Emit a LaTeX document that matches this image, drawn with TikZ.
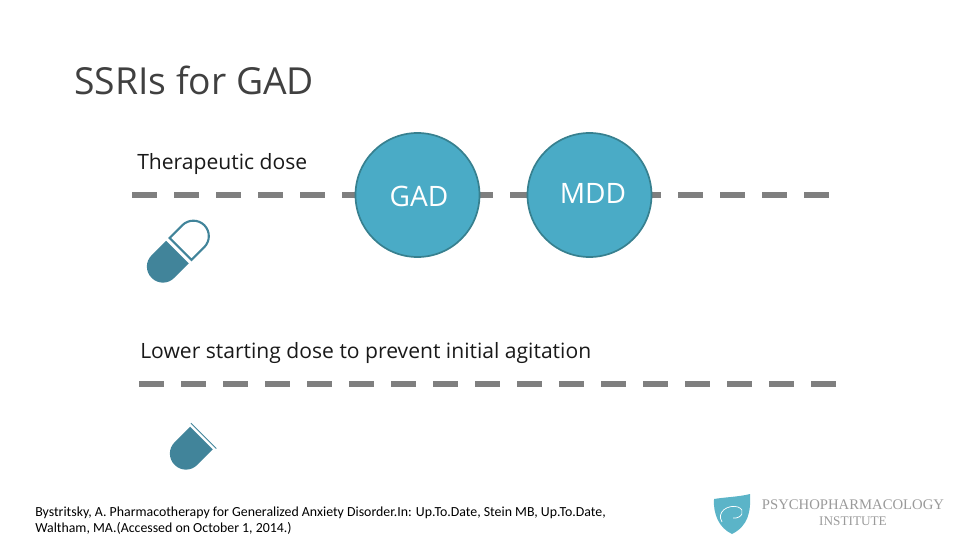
\documentclass[tikz,border=0pt]{standalone}
\usepackage{fontspec}
\setmainfont{Open Sans}
\newfontfamily\citefont{Carlito}
\newfontfamily\logofont{Liberation Serif}
\usepackage{tikz}
\definecolor{discfill}{HTML}{4AABC6}
\definecolor{discline}{HTML}{37808F}
\definecolor{pillcol}{HTML}{41849A}
\definecolor{dashcol}{HTML}{7F7F7F}
\definecolor{logocol}{HTML}{9A9A9A}
\definecolor{shieldcol}{HTML}{5BB4C8}

\begin{document}
\begin{tikzpicture}[x=0.025cm, y=-0.025cm]
% Node styles ---
\tikzstyle{disc} = [circle, line width = 1.2pt, minimum size = 3.1cm, inner sep = 0pt, draw = discline, fill = discfill]
\tikzstyle{disctext} = [inner sep = 0pt, text = white, font = \fontsize{20}{24}\selectfont]
\tikzstyle{head} = [anchor = west, inner sep = 0pt, text = black!75, font = \fontsize{26.5}{32}\selectfont]
\tikzstyle{sub} = [anchor = west, inner sep = 0pt, text = black!90, font = \fontsize{15}{18}\selectfont]
\tikzstyle{cite} = [anchor = north west, inner sep = 0pt, align = left, text = black, font = \citefont\fontsize{9.85}{11.4}\selectfont]
\tikzstyle{logo} = [inner sep = 0pt, text = logocol, font = \logofont\fontsize{10.45}{13}\selectfont]
% Edge styles
\tikzstyle{dose} = [draw = dashcol, line width = 4.9pt, dash pattern = on 0.625cm off 0.425cm]
\useasboundingbox (0,0) rectangle (960,540);
% Nodes
\node at (74,80) [head] (title) {SSRIs for GAD};
\node at (137,164.5) [sub] (ther) {Therapeutic dose};
\node at (140,353.5) [sub] (lower) {Lower starting dose to prevent initial agitation};
\node at (35,507) [cite] (cite) {Bystritsky, A. Pharmacotherapy for Generalized Anxiety Disorder.In: Up.To.Date, Stein MB, Up.To.Date,\\Waltham, MA.(Accessed on October 1, 2014.)};
\coordinate (a0) at (132,195);
\coordinate (a1) at (830,195);
\coordinate (b0) at (139,384);
\coordinate (b1) at (836,384);
% Paths
\draw [dose] (a0) -- (a1);
\draw [dose] (b0) -- (b1);
% Discs
\node at (417.5,195) [disc] (gad) {};
\node at (589.5,195) [disc] (mdd) {};
\node at (419,196) [disctext] (gadtext) {GAD};
\node at (593,193) [disctext] (mddtext) {MDD};
% Full pill
\begin{scope}[shift = {(178.5,251)}, rotate = 45]
\fill [pillcol] (-1.5,-16) -- (-22,-16) .. controls (-31,-16) and (-38,-9) .. (-38,0) .. controls (-38,9) and (-31,16) .. (-22,16) -- (-1.5,16) -- cycle;
\draw [pillcol, line width = 1.5pt, fill = white] (3,-15.5) -- (21,-15.5) .. controls (29.5,-15.5) and (36.5,-8.5) .. (36.5,0) .. controls (36.5,8.5) and (29.5,15.5) .. (21,15.5) -- (3,15.5) -- cycle;
\end{scope}
% Half pill
\begin{scope}[shift = {(201.5,438)}, rotate = 45]
\fill [pillcol] (0,-16) -- (-22,-16) .. controls (-31,-16) and (-38,-9) .. (-38,0) .. controls (-38,9) and (-31,16) .. (-22,16) -- (0,16) -- cycle;
\draw [pillcol, line width = 0.7pt] (3,-18) -- (3,18);
\end{scope}
% Logo
\fill [shieldcol] (714,499) .. controls (726,497) and (738,497) .. (750,494) .. controls (751,512) and (748,526) .. (732,534) .. controls (719,528) and (713,514) .. (714,499) -- cycle;
\draw [white, line width = 0.5pt] (722,522) .. controls (716,512) and (728,504) .. (738,507) .. controls (746,510) and (742,519) .. (733,518);
\node at (853,505) [logo] (logoa) {PSYCHOPHARMACOLOGY};
\node at (853,521.5) [logo, font = \logofont\fontsize{9.4}{10}\selectfont] (logob) {INSTITUTE};
\end{tikzpicture}
\end{document}
